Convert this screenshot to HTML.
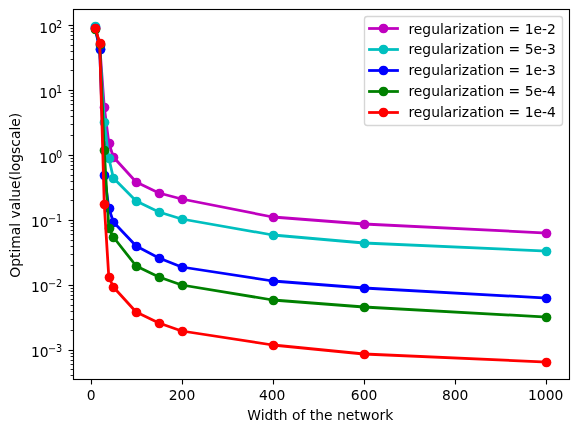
<!DOCTYPE html>
<html><head><meta charset="utf-8"><title>Optimal value vs width</title>
<style>
html,body{margin:0;padding:0;background:#fff;overflow:hidden}
svg{display:block}
.t,.t text{font-family:"DejaVu Sans","Liberation Sans",sans-serif;font-size:13.889px;fill:#000}
.t .s{font-size:9.722px}
</style></head><body>
<svg width="578" height="432" viewBox="0 0 578 432">
<rect width="578" height="432" fill="#fff"/>
<g stroke="#000" stroke-width="1.11" fill="none">
<path d="M91.5 380V384.5"/>
<path d="M182.5 380V384.5"/>
<path d="M273.5 380V384.5"/>
<path d="M364.5 380V384.5"/>
<path d="M455.5 380V384.5"/>
<path d="M546.5 380V384.5"/>
<path d="M68.5 25.5H73"/>
<path d="M68.5 90.5H73"/>
<path d="M68.5 155.5H73"/>
<path d="M68.5 220.5H73"/>
<path d="M68.5 285.5H73"/>
<path d="M68.5 350.5H73"/>
</g>
<g fill="#000" fill-opacity="0.84">
<rect x="70.58" y="28" width="2.42" height="1"/>
<rect x="70.58" y="31" width="2.42" height="1"/>
<rect x="70.58" y="35" width="2.42" height="1"/>
<rect x="70.58" y="39" width="2.42" height="1"/>
<rect x="70.58" y="45" width="2.42" height="1"/>
<rect x="70.58" y="51" width="2.42" height="1"/>
<rect x="70.58" y="59" width="2.42" height="1"/>
<rect x="70.58" y="70" width="2.42" height="1"/>
<rect x="70.58" y="93" width="2.42" height="1"/>
<rect x="70.58" y="96" width="2.42" height="1"/>
<rect x="70.58" y="100" width="2.42" height="1"/>
<rect x="70.58" y="104" width="2.42" height="1"/>
<rect x="70.58" y="110" width="2.42" height="1"/>
<rect x="70.58" y="116" width="2.42" height="1"/>
<rect x="70.58" y="124" width="2.42" height="1"/>
<rect x="70.58" y="135" width="2.42" height="1"/>
<rect x="70.58" y="158" width="2.42" height="1"/>
<rect x="70.58" y="161" width="2.42" height="1"/>
<rect x="70.58" y="165" width="2.42" height="1"/>
<rect x="70.58" y="169" width="2.42" height="1"/>
<rect x="70.58" y="175" width="2.42" height="1"/>
<rect x="70.58" y="181" width="2.42" height="1"/>
<rect x="70.58" y="189" width="2.42" height="1"/>
<rect x="70.58" y="200" width="2.42" height="1"/>
<rect x="70.58" y="223" width="2.42" height="1"/>
<rect x="70.58" y="226" width="2.42" height="1"/>
<rect x="70.58" y="230" width="2.42" height="1"/>
<rect x="70.58" y="234" width="2.42" height="1"/>
<rect x="70.58" y="240" width="2.42" height="1"/>
<rect x="70.58" y="246" width="2.42" height="1"/>
<rect x="70.58" y="254" width="2.42" height="1"/>
<rect x="70.58" y="265" width="2.42" height="1"/>
<rect x="70.58" y="288" width="2.42" height="1"/>
<rect x="70.58" y="291" width="2.42" height="1"/>
<rect x="70.58" y="295" width="2.42" height="1"/>
<rect x="70.58" y="299" width="2.42" height="1"/>
<rect x="70.58" y="305" width="2.42" height="1"/>
<rect x="70.58" y="311" width="2.42" height="1"/>
<rect x="70.58" y="319" width="2.42" height="1"/>
<rect x="70.58" y="330" width="2.42" height="1"/>
<rect x="70.58" y="353" width="2.42" height="1"/>
<rect x="70.58" y="356" width="2.42" height="1"/>
<rect x="70.58" y="360" width="2.42" height="1"/>
<rect x="70.58" y="364" width="2.42" height="1"/>
<rect x="70.58" y="369" width="2.42" height="1"/>
<rect x="70.58" y="375" width="2.42" height="1"/>
</g>
<g class="t" text-anchor="middle">
<text x="91.20" y="400.00">0</text>
<text x="182.05" y="400.00">200</text>
<text x="272.14" y="400.00">400</text>
<text x="364.11" y="400.00">600</text>
<text x="455.20" y="400.00">800</text>
<text x="545.66" y="400.00">1000</text>
<text x="320.29" y="420.00">Width of the network</text>
<text transform="translate(19.75 195.22) rotate(-90)">Optimal value(logscale)</text>
</g>
<g class="t">
<text x="39.35" y="32.92">10<tspan class="s" x="56.06" y="27.92">2</tspan></text>
<text x="39.35" y="97.92">10<tspan class="s" x="56.06" y="92.92">1</tspan></text>
<text x="39.35" y="162.92">10<tspan class="s" x="56.06" y="157.92">0</tspan></text>
<text x="30.90" y="226.92">10<tspan class="s" x="47.90" y="221.92">−1</tspan></text>
<text x="30.90" y="291.92">10<tspan class="s" x="47.90" y="286.92">−2</tspan></text>
<text x="30.90" y="356.92">10<tspan class="s" x="47.90" y="351.92">−3</tspan></text>
</g>
<g fill="none" stroke-width="2.778" stroke-linecap="square" stroke-linejoin="round">
<polyline points="95.13,27.0 99.69,45.0 104.24,107.0 108.80,143.0 113.35,157.0 136.12,182.0 158.90,193.0 181.67,199.0 272.76,217.0 363.86,224.0 546.04,233.0" stroke="#bf00bf"/>
<g fill="#bf00bf" stroke="none">
<circle cx="95.5" cy="27.5" r="4.86"/>
<circle cx="100.5" cy="45.5" r="4.86"/>
<circle cx="104.5" cy="107.5" r="4.86"/>
<circle cx="109.5" cy="143.5" r="4.86"/>
<circle cx="113.5" cy="157.5" r="4.86"/>
<circle cx="136.5" cy="182.5" r="4.86"/>
<circle cx="159.5" cy="193.5" r="4.86"/>
<circle cx="182.5" cy="199.5" r="4.86"/>
<circle cx="273.5" cy="217.5" r="4.86"/>
<circle cx="364.5" cy="224.5" r="4.86"/>
<circle cx="546.5" cy="233.5" r="4.86"/>
</g>
<polyline points="95.13,26.0 99.69,49.0 104.24,122.0 108.80,158.0 113.35,178.0 136.12,201.0 158.90,212.0 181.67,219.0 272.76,235.0 363.86,243.0 546.04,251.0" stroke="#00bfbf"/>
<g fill="#00bfbf" stroke="none">
<circle cx="95.5" cy="26.5" r="4.86"/>
<circle cx="100.5" cy="49.5" r="4.86"/>
<circle cx="104.5" cy="122.5" r="4.86"/>
<circle cx="109.5" cy="158.5" r="4.86"/>
<circle cx="113.5" cy="178.5" r="4.86"/>
<circle cx="136.5" cy="201.5" r="4.86"/>
<circle cx="159.5" cy="212.5" r="4.86"/>
<circle cx="182.5" cy="219.5" r="4.86"/>
<circle cx="273.5" cy="235.5" r="4.86"/>
<circle cx="364.5" cy="243.5" r="4.86"/>
<circle cx="546.5" cy="251.5" r="4.86"/>
</g>
<polyline points="95.13,28.0 99.69,49.0 104.24,175.0 108.80,208.0 113.35,222.0 136.12,246.0 158.90,258.0 181.67,267.0 272.76,281.0 363.86,288.0 546.04,298.0" stroke="#0000ff"/>
<g fill="#0000ff" stroke="none">
<circle cx="95.5" cy="28.5" r="4.86"/>
<circle cx="100.5" cy="49.5" r="4.86"/>
<circle cx="104.5" cy="175.5" r="4.86"/>
<circle cx="109.5" cy="208.5" r="4.86"/>
<circle cx="113.5" cy="222.5" r="4.86"/>
<circle cx="136.5" cy="246.5" r="4.86"/>
<circle cx="159.5" cy="258.5" r="4.86"/>
<circle cx="182.5" cy="267.5" r="4.86"/>
<circle cx="273.5" cy="281.5" r="4.86"/>
<circle cx="364.5" cy="288.5" r="4.86"/>
<circle cx="546.5" cy="298.5" r="4.86"/>
</g>
<polyline points="95.13,29.0 99.69,44.0 104.24,150.0 108.80,228.0 113.35,237.0 136.12,266.0 158.90,277.0 181.67,285.0 272.76,300.0 363.86,307.0 546.04,317.0" stroke="#008000"/>
<g fill="#008000" stroke="none">
<circle cx="95.5" cy="29.5" r="4.86"/>
<circle cx="100.5" cy="44.5" r="4.86"/>
<circle cx="104.5" cy="150.5" r="4.86"/>
<circle cx="109.5" cy="228.5" r="4.86"/>
<circle cx="113.5" cy="237.5" r="4.86"/>
<circle cx="136.5" cy="266.5" r="4.86"/>
<circle cx="159.5" cy="277.5" r="4.86"/>
<circle cx="182.5" cy="285.5" r="4.86"/>
<circle cx="273.5" cy="300.5" r="4.86"/>
<circle cx="364.5" cy="307.5" r="4.86"/>
<circle cx="546.5" cy="317.5" r="4.86"/>
</g>
<polyline points="95.13,28.0 99.69,43.0 104.24,204.0 108.80,277.0 113.35,287.0 136.12,312.0 158.90,323.0 181.67,331.0 272.76,345.0 363.86,354.0 546.04,362.0" stroke="#ff0000"/>
<g fill="#ff0000" stroke="none">
<circle cx="95.5" cy="28.5" r="4.86"/>
<circle cx="100.5" cy="43.5" r="4.86"/>
<circle cx="104.5" cy="204.5" r="4.86"/>
<circle cx="109.5" cy="277.5" r="4.86"/>
<circle cx="113.5" cy="287.5" r="4.86"/>
<circle cx="136.5" cy="312.5" r="4.86"/>
<circle cx="159.5" cy="323.5" r="4.86"/>
<circle cx="182.5" cy="331.5" r="4.86"/>
<circle cx="273.5" cy="345.5" r="4.86"/>
<circle cx="364.5" cy="354.5" r="4.86"/>
<circle cx="546.5" cy="362.5" r="4.86"/>
</g>
</g>
<rect x="73.5" y="9.5" width="496" height="370" fill="none" stroke="#000" stroke-width="1.11"/>
<rect x="364.5" y="16.5" width="198" height="109" rx="2.78" fill="#fff" fill-opacity="0.8" stroke="#ccc" stroke-opacity="0.8" stroke-width="1.39"/>
<path d="M369.5 28.5H397.5" stroke="#bf00bf" stroke-width="2.778" stroke-linecap="square"/>
<circle cx="383.5" cy="28.5" r="4.86" fill="#bf00bf"/>
<text class="t" x="408.40" y="33.50">regularization = 1e-2</text>
<path d="M369.5 49.5H397.5" stroke="#00bfbf" stroke-width="2.778" stroke-linecap="square"/>
<circle cx="383.5" cy="49.5" r="4.86" fill="#00bfbf"/>
<text class="t" x="408.40" y="54.44">regularization = 5e-3</text>
<path d="M369.5 70.5H397.5" stroke="#0000ff" stroke-width="2.778" stroke-linecap="square"/>
<circle cx="383.5" cy="70.5" r="4.86" fill="#0000ff"/>
<text class="t" x="408.40" y="75.39">regularization = 1e-3</text>
<path d="M369.5 91.5H397.5" stroke="#008000" stroke-width="2.778" stroke-linecap="square"/>
<circle cx="383.5" cy="91.5" r="4.86" fill="#008000"/>
<text class="t" x="408.40" y="96.33">regularization = 5e-4</text>
<path d="M369.5 112.5H397.5" stroke="#ff0000" stroke-width="2.778" stroke-linecap="square"/>
<circle cx="383.5" cy="112.5" r="4.86" fill="#ff0000"/>
<text class="t" x="408.40" y="117.28">regularization = 1e-4</text>
</svg>
</body></html>
